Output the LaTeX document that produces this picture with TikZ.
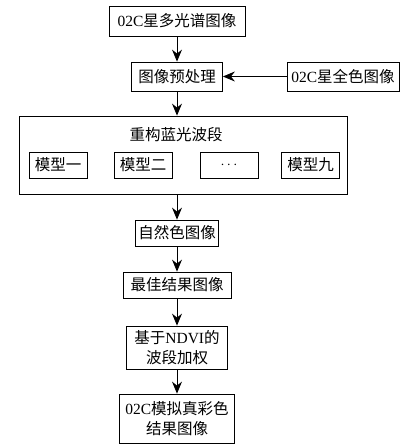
\documentclass[tikz,border=0pt]{standalone}
\usepackage{fontspec}
\setmainfont{Liberation Serif}
\newfontfamily\cjk{Noto Sans CJK SC}
\usetikzlibrary{positioning, arrows.meta}
\newcommand{\zh}[1]{{\cjk #1}}

\tikzset{
    box/.style={draw, line width=0.8pt, inner sep=2pt, align=center,
        font=\fontsize{15.5}{19.5}\selectfont},
    model/.style={box, minimum width=58pt, minimum height=26pt},
    flow/.style={-{Stealth[length=12pt, width=10pt, inset=4pt]}, line width=0.9pt},
}

\begin{document}
\begin{tikzpicture}[on grid, x=1pt, y=1pt]
    \useasboundingbox (0,0) rectangle (413,-445);

    \node[box, minimum width=136pt, minimum height=30pt] (ms) at (177,-21) {02C\zh{星多光谱图像}};
    \node[box, minimum width=91pt, minimum height=29pt] (pre) [below=55.5pt of ms] {\zh{图像预处理}};
    \node[box, minimum width=112pt, minimum height=29pt] (pan) [right=166pt of pre] {02C\zh{星全色图像}};
    \node[box, minimum width=328pt, minimum height=78pt] (blue) [below=78.5pt of pre, xshift=6pt] {};
    \node[font=\fontsize{15.5}{19.5}\selectfont] (title) [above left=20pt and 7pt of blue] {\zh{重构蓝光波段}};
    \node[model] (m1) [below left=10pt and 125pt of blue] {\zh{模型一}};
    \node[model] (m2) [below left=10pt and 40pt of blue] {\zh{模型二}};
    \node[model] (m3) [below right=10pt and 46pt of blue] {$\cdots$};
    \node[model] (m9) [below right=10pt and 127.5pt of blue] {\zh{模型九}};
    \node[box, minimum width=83pt, minimum height=26pt] (nat) [below=78pt of blue, xshift=-6pt] {\zh{自然色图像}};
    \node[box, minimum width=108pt, minimum height=26pt] (best) [below=52pt of nat] {\zh{最佳结果图像}};
    \node[box, minimum width=101pt, minimum height=43pt] (ndvi) [below=62.5pt of best] {\zh{基于}NDVI\zh{的}\\\zh{波段加权}};
    \node[box, minimum width=115pt, minimum height=49pt] (out) [below=71pt of ndvi] {02C\zh{模拟真彩色}\\\zh{结果图像}};

    \draw[flow] (ms) -- (pre);
    \draw[flow] (pan) -- (pre);
    \draw[flow] (pre) -- (pre |- blue.north);
    \draw[flow] (blue.south -| nat) -- (nat);
    \draw[flow] (nat) -- (best);
    \draw[flow] (best) -- (ndvi);
    \draw[flow] (ndvi) -- (out);
\end{tikzpicture}
\end{document}
